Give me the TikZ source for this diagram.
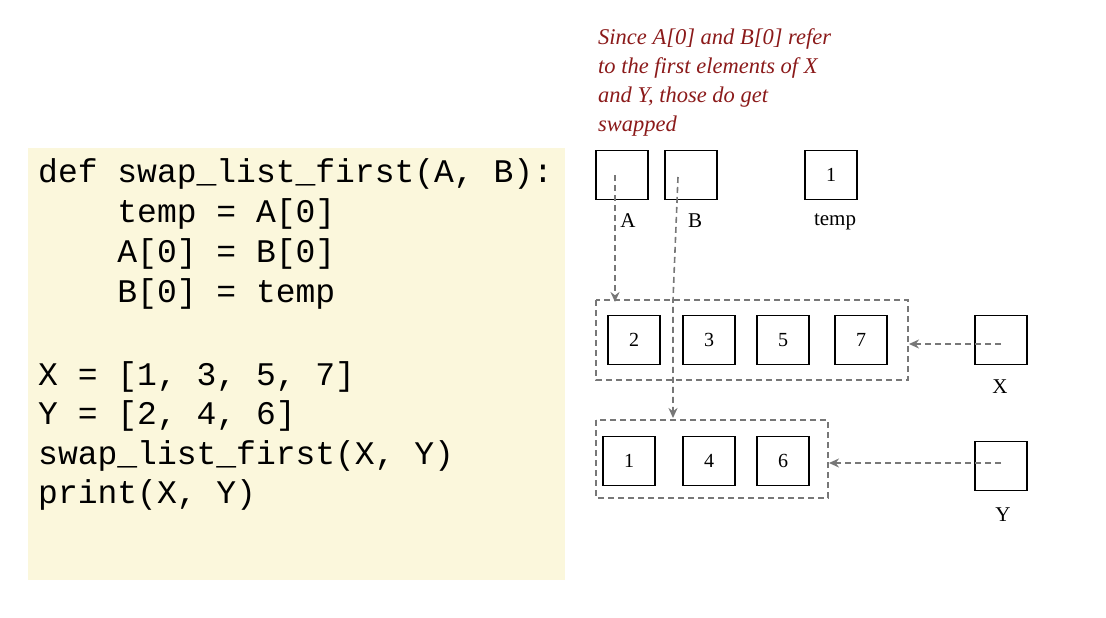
\documentclass[tikz,border=0pt]{standalone}
\usepackage{fontspec}
\setmainfont{Liberation Serif}
\setmonofont{Liberation Mono}
\usetikzlibrary{arrows.meta}
\definecolor{codebg}{HTML}{FBF7DC}
\definecolor{note}{HTML}{8B1A1A}
\definecolor{dgray}{HTML}{777777}
\begin{document}
\begin{tikzpicture}[x=1pt,y=-1pt,
  cell/.style={draw,line width=1.8pt,minimum width=52pt,minimum height=49pt,inner sep=0pt,font=\fontsize{20}{22}\selectfont},
  lab/.style={font=\fontsize{21}{23}\selectfont},
  grp/.style={draw=dgray,line width=1.6pt,dash pattern=on 6pt off 4pt},
  ptr/.style={draw=dgray,line width=1.6pt,dash pattern=on 6pt off 4pt,-{Stealth[length=10pt,width=9pt]}},
  code/.style={anchor=base west,inner sep=0pt,font=\ttfamily\fontsize{33}{34}\selectfont}]
\useasboundingbox (0,0) rectangle (1106,618);
\fill[codebg] (28,148) rectangle (565,580);
\node[code] (c1) at (38,182) {def swap\_list\_first(A, B):};
\node[code] (c2) at (38,222) {\ \ \ \ temp = A[0]};
\node[code] (c3) at (38,262) {\ \ \ \ A[0] = B[0]};
\node[code] (c4) at (38,302) {\ \ \ \ B[0] = temp};
\node[code] (c5) at (38,385) {X = [1, 3, 5, 7]};
\node[code] (c6) at (38,424) {Y = [2, 4, 6]};
\node[code] (c7) at (38,464) {swap\_list\_first(X, Y)};
\node[code] (c8) at (38,503) {print(X, Y)};
\node[anchor=north west,inner sep=0pt,align=left,text=note,font=\itshape\fontsize{22.5}{29.3}\selectfont] (note) at (598,28)
 {Since A[0] and B[0] refer\\to the first elements of X\\and Y, those do get\\swapped};
\node[cell] (A) at (622,175) {};
\node[cell] (B) at (691,175) {};
\node[cell] (T) at (831,175) {1};
\node[lab] (Al) at (628,221) {A};
\node[lab] (Bl) at (695,221) {B};
\node[lab] (Tl) at (835,222) {temp};
\draw[grp] (596,300) rectangle (908,380);
\node[cell] (x0) at (634,340) {2};
\node[cell] (x1) at (709,340) {3};
\node[cell] (x2) at (783,340) {5};
\node[cell] (x3) at (861,340) {7};
\node[cell] (X) at (1001,340) {};
\node[lab] (Xl) at (1000,387) {X};
\draw[grp] (596,420) rectangle (828,498);
\node[cell] (y0) at (629,461) {1};
\node[cell] (y1) at (709,461) {4};
\node[cell] (y2) at (783,461) {6};
\node[cell] (Y) at (1001,466) {};
\node[lab] (Yl) at (1003,515) {Y};
\coordinate (Ae) at (615,302);
\coordinate (Be) at (673,418);
\coordinate (Xe) at (909,344);
\coordinate (Ye) at (829,463);
\draw[ptr] (A.center -| Ae) -- (Ae);
\draw[ptr] (678,177) -- (673,300) -- (Be);
\draw[ptr] (X.center |- Xe) -- (Xe);
\draw[ptr] (Y.center |- Ye) -- (Ye);
\end{tikzpicture}
\end{document}
